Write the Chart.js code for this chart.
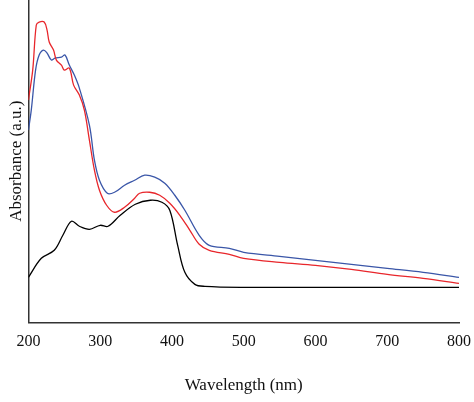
<!DOCTYPE html>
<html><head><script src="https://cdn.jsdelivr.net/npm/chart.js"></script>
<style>body{margin:0;background:#fff}#w{width:474px;height:402px}</style></head>
<body><div id="w"><canvas id="c"></canvas></div>
<script>
const blackX=[200,218,236,248,260,271,285,300,311,328,349,370,386,397,408,418,432,446,500,600,700,800];
const blackY=[45,64,72,87,101,96,93,97,96,107,118,122,120,112,77,50,38,36,35,35,35,35];
const redX=[200,206,211,215,222,226,229,235,239,246,250,257,263,271,278,285,292,299,309,320,334,348,355,369,383,397,411,425,438,452,480,500,550,600,650,700,750,800];
const redY=[222,252,297,300,300,292,280,272,262,257,252,254,237,227,212,182,152,132,117,110,115,124,129,130,127,119,107,92,78,72,68,64,60,57,53,48,44,39];
const blueX=[200,204,210,215,221,226,232,237,246,251,257,264,271,285,292,299,310,320,334,348,362,376,390,404,418,438,452,480,500,550,600,650,700,750,800];
const blueY=[192,212,252,267,272,269,262,264,265,267,257,247,234,197,162,142,129,130,137,142,147,145,139,127,112,87,77,74,70,66,62,58,54,50,45];
const pts=(xs,ys)=>xs.map((x,i)=>({x,y:ys[i]}));
const ds=(xs,ys,c)=>({data:pts(xs,ys),borderColor:c,borderWidth:1.3,pointRadius:0,tension:0.35,fill:false,showLine:true});
new Chart(document.getElementById('c'),{type:'scatter',
data:{datasets:[ds(blackX,blackY,'#000'),ds(redX,redY,'#e8262b'),ds(blueX,blueY,'#3a56a8')]},
options:{responsive:true,maintainAspectRatio:false,animation:false,
layout:{padding:{top:0,right:14,left:6,bottom:6}},
plugins:{legend:{display:false},tooltip:{enabled:false}},
scales:{
x:{type:'linear',min:200,max:800,grid:{display:false,drawTicks:true,tickLength:7},border:{color:'#333',width:1.5},
ticks:{stepSize:100,color:'#111',font:{family:'Liberation Serif',size:16},padding:3},
title:{display:true,text:'Wavelength (nm)',color:'#111',font:{family:'Liberation Serif',size:17},padding:{top:21,bottom:0}}},
y:{min:0,max:322,grid:{display:false,drawTicks:false},border:{color:'#333',width:1.5},ticks:{display:false,padding:0},
title:{display:true,text:'Absorbance (a.u.)',color:'#111',font:{family:'Liberation Serif',size:17},padding:{top:0,bottom:2}}}
}}});
</script></body></html>
